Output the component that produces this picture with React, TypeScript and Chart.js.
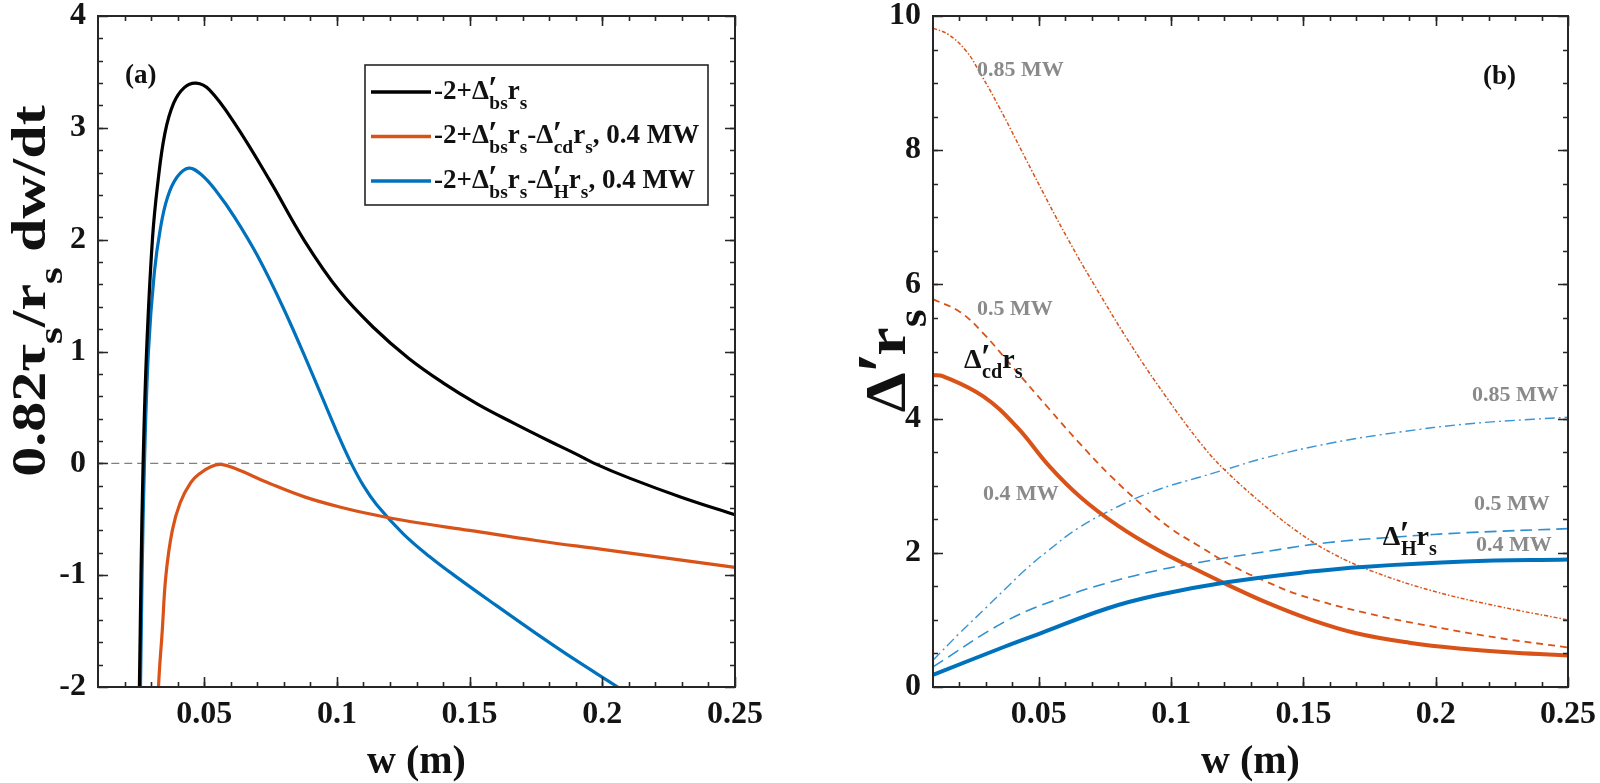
import React, { useEffect, useRef } from "react";
import { Chart, registerables } from "chart.js";

Chart.register(...registerables);

const SERIF = '"Liberation Serif", "Times New Roman", serif';
const BLACK = "#000000";
const ORANGE = "#D95319";
const BLUE = "#0072BD";
const GREY = "#8a8a8a";

// ---------- shared axis ticks ----------
const W_TICKS = [0.05, 0.1, 0.15, 0.2, 0.25];
const W_TICK_LABELS = ["0.05", "0.1", "0.15", "0.2", "0.25"];
const A_Y_TICKS = [-2, -1, 0, 1, 2, 3, 4];
const B_Y_TICKS = [0, 2, 4, 6, 8, 10];

// ---------- panel (a) ----------
const ZERO_W = [0.01, 0.25];
const ZERO_V = [0, 0];

const BS_W = [0.025, 0.0256, 0.0262, 0.027, 0.0283, 0.0305, 0.0325, 0.0352, 0.0385, 0.0425, 0.047, 0.052, 0.0615, 0.0747, 0.0878, 0.101, 0.114, 0.127, 0.14, 0.153, 0.1666, 0.18, 0.19, 0.197, 0.21, 0.23, 0.25];
const BS_V = [-2.6, -2.0, -1.0, 0.0, 1.0, 2.0, 2.5, 2.95, 3.22, 3.36, 3.4, 3.34, 3.04, 2.53, 1.99, 1.54, 1.21, 0.94, 0.72, 0.53, 0.36, 0.2, 0.085, 0.0, -0.13, -0.305, -0.46];

const CDA_W = [0.0322, 0.0328, 0.0342, 0.0356, 0.038, 0.041, 0.045, 0.0484, 0.0525, 0.0563, 0.0615, 0.0747, 0.0878, 0.101, 0.114, 0.1275, 0.15, 0.175, 0.2, 0.225, 0.25];
const CDA_V = [-2.6, -2.0, -1.5, -1.0, -0.6, -0.35, -0.17, -0.09, -0.03, -0.01, -0.045, -0.18, -0.3, -0.39, -0.46, -0.52, -0.6, -0.69, -0.77, -0.85, -0.93];

const HA_W = [0.0254, 0.026, 0.0266, 0.0275, 0.029, 0.0312, 0.0335, 0.0362, 0.0398, 0.0442, 0.049, 0.055, 0.0615, 0.07, 0.08, 0.09, 0.1, 0.105, 0.11, 0.115, 0.125, 0.135, 0.145, 0.16, 0.175, 0.19, 0.2058, 0.21];
const HA_V = [-2.6, -2.0, -1.0, 0.0, 1.0, 1.7, 2.1, 2.38, 2.56, 2.64, 2.58, 2.42, 2.2, 1.86, 1.38, 0.84, 0.28, 0.02, -0.2, -0.37, -0.63, -0.835, -1.015, -1.27, -1.52, -1.76, -2.0, -2.07];

// ---------- panel (b) ----------
const CD04_W = [0.01, 0.0139, 0.029, 0.0416, 0.0542, 0.066, 0.08, 0.095, 0.108, 0.121, 0.136, 0.153, 0.17, 0.19, 0.21, 0.23, 0.25];
const CD04_V = [4.65, 4.63, 4.33, 3.88, 3.28, 2.82, 2.4, 2.04, 1.78, 1.53, 1.26, 1.0, 0.8, 0.66, 0.57, 0.51, 0.47];

const CD05_W = [0.01, 0.0202, 0.029, 0.039, 0.0542, 0.065, 0.077, 0.09, 0.1, 0.111, 0.1234, 0.136, 0.1487, 0.174, 0.199, 0.224, 0.25];
const CD05_V = [5.78, 5.59, 5.27, 4.82, 4.13, 3.65, 3.15, 2.68, 2.36, 2.09, 1.8, 1.57, 1.37, 1.1, 0.9, 0.73, 0.59];

const CD085_W = [0.01, 0.016, 0.0227, 0.0278, 0.0353, 0.0478, 0.0605, 0.0731, 0.0856, 0.098, 0.111, 0.1196, 0.136, 0.1487, 0.161, 0.1764, 0.199, 0.224, 0.25];
const CD085_V = [9.82, 9.72, 9.47, 9.15, 8.62, 7.66, 6.71, 5.85, 5.05, 4.33, 3.64, 3.26, 2.68, 2.29, 1.99, 1.72, 1.43, 1.2, 1.0];

const H04_W = [0.01, 0.037, 0.0506, 0.0758, 0.095, 0.121, 0.153, 0.1724, 0.211, 0.25];
const H04_V = [0.18, 0.6, 0.8, 1.17, 1.37, 1.56, 1.72, 1.79, 1.87, 1.9];

const H05_W = [0.01, 0.037, 0.0564, 0.0758, 0.095, 0.111, 0.136, 0.1588, 0.1865, 0.2117, 0.25];
const H05_V = [0.3, 0.97, 1.3, 1.55, 1.74, 1.86, 2.02, 2.15, 2.24, 2.3, 2.36];

const H085_W = [0.01, 0.02, 0.03, 0.037, 0.045, 0.0525, 0.065, 0.08, 0.095, 0.111, 0.1196, 0.136, 0.161, 0.1865, 0.2117, 0.2368, 0.25];
const H085_V = [0.4, 0.8, 1.18, 1.45, 1.75, 2.0, 2.37, 2.69, 2.94, 3.13, 3.23, 3.42, 3.64, 3.8, 3.92, 3.99, 4.02];

// ---------- texts ----------
const LEGEND_A = [
  "-2+Δ'_{bs}r_{s}",
  "-2+Δ'_{bs}r_{s}-Δ'_{cd}r_{s}, 0.4 MW",
  "-2+Δ'_{bs}r_{s}-Δ'_{H}r_{s}, 0.4 MW",
];
const YTITLE_A = "0.82τ_{s}/r_{s} dw/dt";
const YTITLE_B = "Δ'r_{s}";
const XTITLE = "w (m)";

const NOTE_TEXT = ["0.85 MW", "0.5 MW", "Δ'_{cd}r_{s}", "0.4 MW", "0.85 MW", "0.5 MW", "Δ'_{H}r_{s}", "0.4 MW"];
const NOTE_W = [0.0266, 0.0266, 0.0217, 0.0289, 0.2137, 0.2145, 0.18, 0.2152];
const NOTE_V = [9.21, 5.65, 4.89, 2.89, 4.37, 2.74, 2.25, 2.13];
const NOTE_DARK = [false, false, true, false, false, false, true, false];

const zip = (w: number[], v: number[]) => w.map((x, i) => ({ x, y: v[i] }));

// ---------- rich text ----------
type Seg = { t: string; k: "n" | "p" | "s" };
function parseRich(s: string): Seg[] {
  const out: Seg[] = [];
  let buf = "";
  let i = 0;
  const flush = () => {
    if (buf) out.push({ t: buf, k: "n" });
    buf = "";
  };
  while (i < s.length) {
    const ch = s[i];
    if (ch === "'") {
      flush();
      out.push({ t: "′", k: "p" });
      i++;
    } else if (ch === "_" && s[i + 1] === "{") {
      flush();
      const j = s.indexOf("}", i);
      out.push({ t: s.slice(i + 2, j), k: "s" });
      i = j + 1;
    } else {
      buf += ch;
      i++;
    }
  }
  flush();
  return out;
}

function drawRich(ctx: CanvasRenderingContext2D, s: string, x: number, yMid: number, size: number, color: string, align: "left" | "center") {
  const segs = parseRich(s);
  const items: { t: string; x: number; dy: number; size: number }[] = [];
  let cx = 0;
  let pStart: number | null = null;
  for (const sg of segs) {
    if (sg.k === "n") {
      ctx.font = `bold ${size}px ${SERIF}`;
      const w = ctx.measureText(sg.t).width;
      items.push({ t: sg.t, x: cx, dy: 0, size });
      cx += w;
      pStart = null;
    } else if (sg.k === "p") {
      const ps = size * 1.25;
      ctx.font = `bold ${ps}px ${SERIF}`;
      const w = ctx.measureText(sg.t).width;
      items.push({ t: sg.t, x: cx - size * 0.02, dy: size * 0.02, size: ps });
      pStart = cx;
      cx += w * 0.75;
    } else {
      const ss = size * 0.72;
      ctx.font = `bold ${ss}px ${SERIF}`;
      const w = ctx.measureText(sg.t).width;
      const sx = pStart !== null ? pStart + size * 0.02 : cx;
      items.push({ t: sg.t, x: sx, dy: size * 0.36, size: ss });
      cx = Math.max(cx, sx + w);
      pStart = null;
    }
  }
  const off = align === "center" ? -cx / 2 : 0;
  const base = yMid + size * 0.33;
  ctx.fillStyle = color;
  ctx.textBaseline = "alphabetic";
  ctx.textAlign = "left";
  for (const it of items) {
    ctx.font = `bold ${it.size}px ${SERIF}`;
    ctx.fillText(it.t, x + off + it.x, base + it.dy);
  }
}

// ---------- decoration plugin (box, inward ticks, titles, legend, notes) ----------
const decorPlugin = {
  id: "decor",
  afterDraw(chart: any) {
    const o = chart.options.plugins.decor;
    const { ctx, chartArea: ca } = chart;
    const xs = chart.scales.x;
    const ys = chart.scales.y;
    ctx.save();
    ctx.strokeStyle = "#262626";
    ctx.lineWidth = 1.6;
    const drawX = (v: number, len: number) => {
      const px = Math.round(xs.getPixelForValue(v)) + 0.5;
      ctx.beginPath();
      ctx.moveTo(px, ca.bottom);
      ctx.lineTo(px, ca.bottom - len);
      ctx.moveTo(px, ca.top);
      ctx.lineTo(px, ca.top + len);
      ctx.stroke();
    };
    const drawY = (v: number, len: number) => {
      const py = Math.round(ys.getPixelForValue(v)) + 0.5;
      ctx.beginPath();
      ctx.moveTo(ca.left, py);
      ctx.lineTo(ca.left + len, py);
      ctx.moveTo(ca.right, py);
      ctx.lineTo(ca.right - len, py);
      ctx.stroke();
    };
    const k0 = Math.round(xs.min / o.xMinor);
    const k1 = Math.round(xs.max / o.xMinor);
    for (let k = k0 + 1; k < k1; k++) drawX(k * o.xMinor, 5);
    for (const t of xs.ticks) drawX(t.value, 10);
    const j0 = Math.round(ys.min / o.yMinor);
    const j1 = Math.round(ys.max / o.yMinor);
    for (let j = j0 + 1; j < j1; j++) drawY(j * o.yMinor, 5);
    for (const t of ys.ticks) drawY(t.value, 10);
    ctx.lineWidth = 2;
    ctx.strokeRect(ca.left, ca.top, ca.right - ca.left, ca.bottom - ca.top);

    // x title
    drawRich(ctx, XTITLE, (ca.left + ca.right) / 2, o.xTitleY, 40, "#111", "center");
    // y title (rotated)
    ctx.save();
    ctx.translate(o.yTitleX, o.yTitleY);
    ctx.rotate(-Math.PI / 2);
    ctx.scale(o.yTitleStretch, 1);
    drawRich(ctx, o.yTitle, 0, 0, o.yTitleSize, "#111", "center");
    ctx.restore();

    // panel tag
    drawRich(ctx, o.tag, o.tagX, o.tagY, 27, "#111", "left");

    // legend
    if (o.legend) {
      const L = o.legend;
      const bx = ca.right - L.right - L.width;
      const by = ca.top + L.top;
      ctx.fillStyle = "#fff";
      ctx.fillRect(bx, by, L.width, L.height);
      ctx.strokeStyle = "#262626";
      ctx.lineWidth = 1.6;
      ctx.strokeRect(bx, by, L.width, L.height);
      L.labels.forEach((lab: string, i: number) => {
        const ry = by + L.first + i * L.gap;
        ctx.strokeStyle = L.colors[i];
        ctx.lineWidth = 3.5;
        ctx.beginPath();
        ctx.moveTo(bx + 6, ry);
        ctx.lineTo(bx + 66, ry);
        ctx.stroke();
        drawRich(ctx, lab, bx + 69, ry - 2, 27, "#111", "left");
      });
    }

    // notes in data coordinates
    if (o.notes) {
      o.notes.text.forEach((t: string, i: number) => {
        const px = xs.getPixelForValue(o.notes.w[i]);
        const py = ys.getPixelForValue(o.notes.v[i]);
        const dark = o.notes.dark[i];
        drawRich(ctx, t, px, py, dark ? 28 : 22, dark ? "#111" : GREY, "left");
      });
    }
    ctx.restore();
  },
};

const tickFont = { family: SERIF, weight: "bold" as const, size: 32, lineHeight: 1 };

function makeScales(yMin: number, yMax: number, yTicks: number[], yWidth: number) {
  return {
    x: {
      type: "linear",
      min: 0.01,
      max: 0.25,
      grid: { display: false, drawTicks: false },
      border: { display: false },
      ticks: {
        font: tickFont,
        color: "#141414",
        padding: 12,
        autoSkip: false,
        maxRotation: 0,
        callback: (_v: number, i: number) => W_TICK_LABELS[i],
      },
      afterBuildTicks: (s: any) => {
        s.ticks = W_TICKS.map((v) => ({ value: v }));
      },
      afterFit: (s: any) => {
        s.height = 96;
        s.paddingLeft = 0;
        s.paddingRight = 0;
      },
    },
    y: {
      type: "linear",
      min: yMin,
      max: yMax,
      grid: { display: false, drawTicks: false },
      border: { display: false },
      ticks: {
        font: tickFont,
        color: "#141414",
        padding: 12,
        autoSkip: false,
        callback: (v: number) => String(v),
      },
      afterBuildTicks: (s: any) => {
        s.ticks = yTicks.map((v) => ({ value: v }));
      },
      afterFit: (s: any) => {
        s.width = yWidth;
        s.paddingTop = 0;
        s.paddingBottom = 0;
      },
    },
  };
}

const line = (data: any, color: string, width: number, dash: number[] = []) => ({
  data,
  borderColor: color,
  borderWidth: width,
  borderDash: dash,
  pointRadius: 0,
  fill: false,
  tension: 0.4,
  clip: { left: 4, right: 4, top: 0, bottom: 0 },
});

function configA(): any {
  return {
    type: "line",
    data: {
      datasets: [
        line(zip(BS_W, BS_V), BLACK, 3.2),
        line(zip(CDA_W, CDA_V), ORANGE, 3.2),
        line(zip(HA_W, HA_V), BLUE, 3.2),
        line(zip(ZERO_W, ZERO_V), "#808080", 1.4, [8, 5]),
      ],
    },
    options: {
      responsive: false,
      animation: false,
      devicePixelRatio: 1,
      layout: { padding: { left: 0, top: 16, right: 65, bottom: 0 } },
      plugins: {
        legend: { display: false },
        tooltip: { enabled: false },
        decor: {
          xMinor: 0.01,
          yMinor: 0.2,
          xTitleY: 760,
          yTitle: YTITLE_A,
          yTitleX: 29,
          yTitleY: 291,
          yTitleSize: 48,
          yTitleStretch: 1.25,
          tag: "(a)",
          tagX: 125,
          tagY: 74,
          legend: {
            labels: LEGEND_A,
            colors: [BLACK, ORANGE, BLUE],
            right: 27,
            top: 49,
            width: 343,
            height: 140,
            first: 27,
            gap: 44.5,
          },
        },
      },
      scales: makeScales(-2, 4, A_Y_TICKS, 98),
    },
    plugins: [decorPlugin],
  };
}

function configB(): any {
  return {
    type: "line",
    data: {
      datasets: [
        line(zip(H04_W, H04_V), BLUE, 4),
        line(zip(CD04_W, CD04_V), ORANGE, 4),
        line(zip(CD05_W, CD05_V), ORANGE, 1.8, [7, 5]),
        line(zip(CD085_W, CD085_V), ORANGE, 1.5, [4, 2, 1.5, 2]),
        line(zip(H05_W, H05_V), "#2f8fd0", 1.6, [12, 6]),
        line(zip(H085_W, H085_V), "#3a95d4", 1.4, [10, 4, 2, 4]),
      ],
    },
    options: {
      responsive: false,
      animation: false,
      devicePixelRatio: 1,
      layout: { padding: { left: 0, top: 16, right: 32, bottom: 0 } },
      plugins: {
        legend: { display: false },
        tooltip: { enabled: false },
        decor: {
          xMinor: 0.01,
          yMinor: 0.5,
          xTitleY: 760,
          yTitle: YTITLE_B,
          yTitleX: 86,
          yTitleY: 361,
          yTitleSize: 58,
          yTitleStretch: 1.1,
          tag: "(b)",
          tagX: 683,
          tagY: 75,
          notes: { text: NOTE_TEXT, w: NOTE_W, v: NOTE_V, dark: NOTE_DARK },
        },
      },
      scales: makeScales(0, 10, B_Y_TICKS, 133),
    },
    plugins: [decorPlugin],
  };
}

function ChartCanvas({ left, make }: { left: number; make: () => any }) {
  const ref = useRef<HTMLCanvasElement | null>(null);
  useEffect(() => {
    if (!ref.current) return;
    const chart = new Chart(ref.current, make());
    return () => chart.destroy();
  }, [make]);
  return (
    <canvas
      ref={ref}
      width={800}
      height={783}
      style={{ position: "absolute", left, top: 0, width: 800, height: 783 }}
    />
  );
}

export default function App() {
  return (
    <div style={{ position: "fixed", left: 0, top: 0, width: 1600, height: 783, background: "#ffffff", overflow: "hidden" }}>
      <ChartCanvas left={0} make={configA} />
      <ChartCanvas left={800} make={configB} />
    </div>
  );
}
